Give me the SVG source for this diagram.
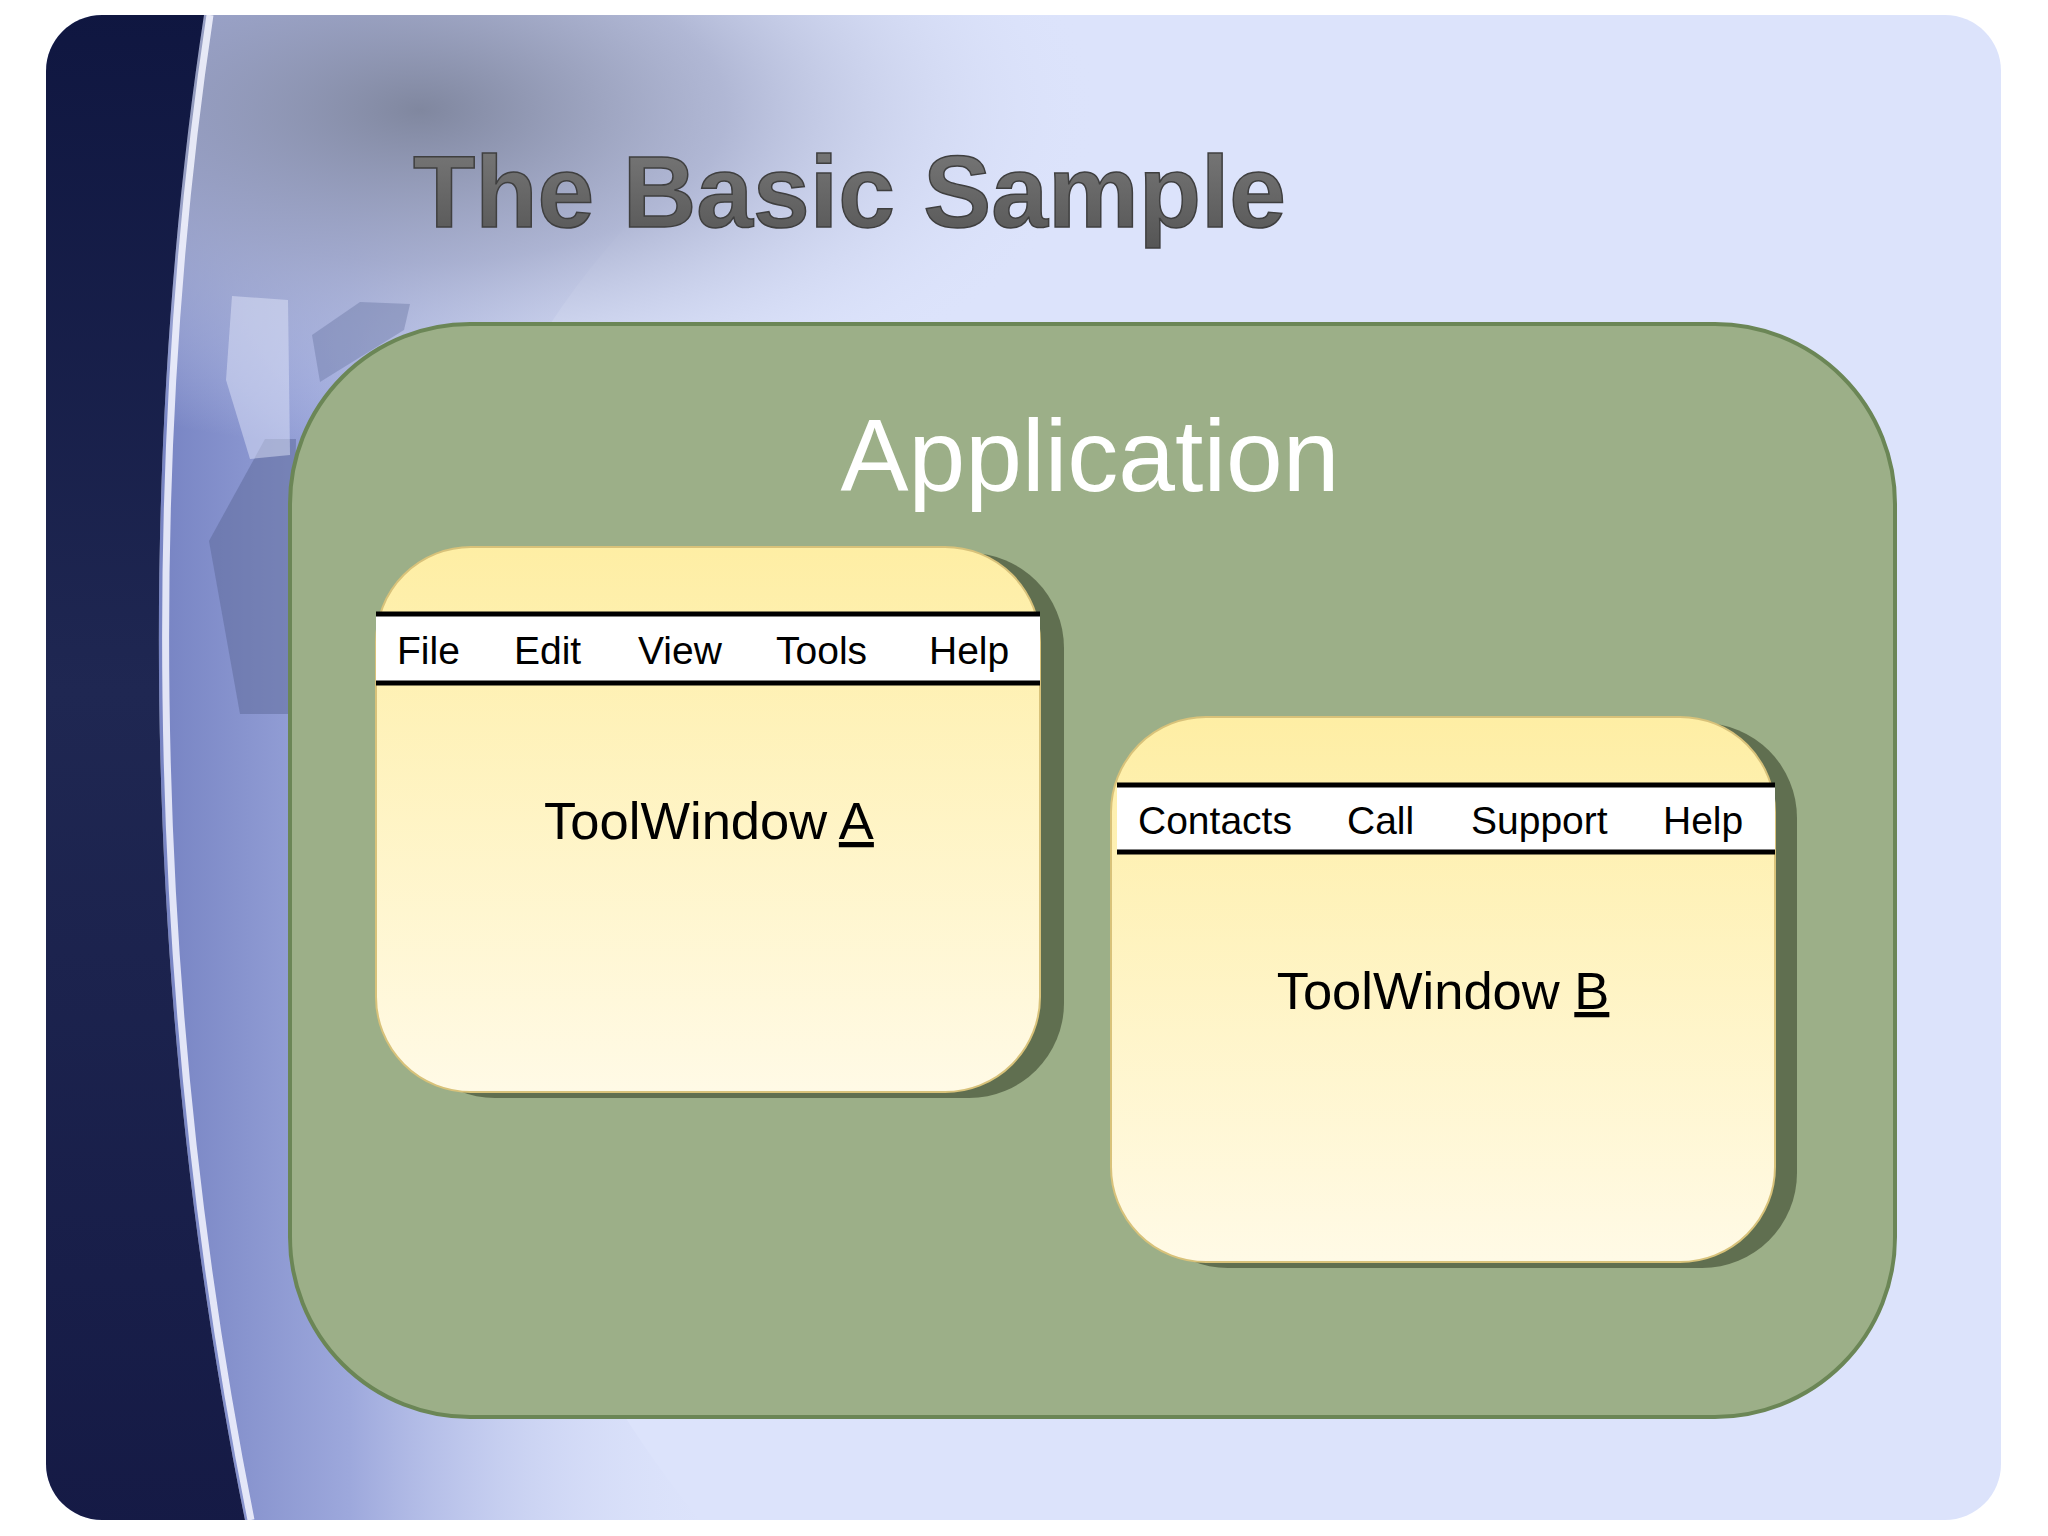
<svg xmlns="http://www.w3.org/2000/svg" width="2048" height="1536" viewBox="0 0 2048 1536">
  <defs>
    <style>
      .menu { font-family: "Liberation Sans", Arial, sans-serif; font-size: 39px; fill: #000; }
      .label { font-family: "Liberation Sans", Arial, sans-serif; font-size: 52.5px; fill: #000; text-anchor: middle; }
      .win { fill: url(#winGrad); stroke: #d8c27a; stroke-width: 2; }
      .shadow { fill: #606f50; }
      .bar { fill: #ffffff; }
      .barline { stroke: #000; stroke-width: 5; }
    </style>
    <clipPath id="slideClip">
      <rect x="46" y="15" width="1955" height="1505" rx="56" ry="56"/>
    </clipPath>
    <linearGradient id="winGrad" x1="0" y1="0" x2="0" y2="1">
      <stop offset="0" stop-color="#feeea4"/>
      <stop offset="1" stop-color="#fffae6"/>
    </linearGradient>
    <linearGradient id="navyGrad" x1="0" y1="0" x2="0" y2="1">
      <stop offset="0" stop-color="#0f1640"/>
      <stop offset="0.45" stop-color="#1f2752"/>
      <stop offset="1" stop-color="#151a45"/>
    </linearGradient>
    <linearGradient id="ringGrad" gradientUnits="userSpaceOnUse" x1="150" y1="0" x2="720" y2="0">
      <stop offset="0" stop-color="#7582c2"/>
      <stop offset="0.35" stop-color="#9da8dc"/>
      <stop offset="1" stop-color="#dce3fb" stop-opacity="0"/>
    </linearGradient>
    <radialGradient id="topGray" gradientUnits="userSpaceOnUse" cx="420" cy="110" r="680" gradientTransform="translate(420 110) scale(1 0.5) translate(-420 -110)">
      <stop offset="0" stop-color="#80879f"/>
      <stop offset="0.45" stop-color="#a2a9c8" stop-opacity="0.75"/>
      <stop offset="1" stop-color="#dce3fb" stop-opacity="0"/>
    </radialGradient>
    <linearGradient id="titleGrad" x1="0" y1="0" x2="0" y2="1">
      <stop offset="0" stop-color="#7a7a7a"/>
      <stop offset="1" stop-color="#555555"/>
    </linearGradient>
  </defs>

  <rect x="0" y="0" width="2048" height="1536" fill="#ffffff"/>

  <g id="slide-background" clip-path="url(#slideClip)">
    <rect x="46" y="15" width="1955" height="1505" fill="#dce3fb"/>
    <path d="M 204 15 C 145 400, 130 950, 245 1520 L 700 1520 C 520 1300, 420 1000, 420 760 C 420 480, 560 200, 900 15 Z" fill="url(#ringGrad)"/>
    <rect x="150" y="15" width="1000" height="520" fill="url(#topGray)"/>
    <polygon points="265,439 296,439 290,714 240,714 209,541" fill="#5c6898" opacity="0.5"/>
    <polygon points="232,296 288,300 290,455 250,459 226,380" fill="#e6ebfc" opacity="0.45"/>
    <polygon points="312,335 360,302 410,304 404,330 320,382" fill="#66739f" opacity="0.4"/>
    <path d="M 204 15 C 145 400, 130 950, 245 1520 L 0 1536 L 0 0 L 204 0 Z" fill="url(#navyGrad)"/>
    <path d="M 210 15 C 152 400, 137 950, 251 1520" stroke="#f4f6ff" stroke-width="7" fill="none" opacity="0.85"/>
  </g>

  <g id="title">
    <text x="413" y="227" font-family="'Liberation Sans', Arial, sans-serif" font-weight="bold" font-size="102" fill="url(#titleGrad)" stroke="#3f3f3f" stroke-width="1.5">The Basic Sample</text>
  </g>

  <g id="application">
    <rect x="290" y="324" width="1605" height="1093" rx="180" ry="180" fill="#9caf88" stroke="#6b8656" stroke-width="4"/>
    <text x="1090" y="491" font-family="'Liberation Sans', Arial, sans-serif" font-size="102" fill="#ffffff" text-anchor="middle">Application</text>
  </g>

  <g id="toolwindow-a">
    <rect class="shadow" x="400" y="553" width="664" height="545" rx="95" ry="95"/>
    <rect class="win" x="376" y="547" width="664" height="545" rx="95" ry="95"/>
    <rect class="bar" x="376" y="614" width="664" height="69"/>
    <line class="barline" x1="376" y1="614" x2="1040" y2="614"/>
    <line class="barline" x1="376" y1="683" x2="1040" y2="683"/>
    <text class="menu" x="397" y="664">File</text>
    <text class="menu" x="514" y="664">Edit</text>
    <text class="menu" x="638" y="664">View</text>
    <text class="menu" x="776" y="664">Tools</text>
    <text class="menu" x="929" y="664">Help</text>
    <text class="label" x="709" y="839">ToolWindow <tspan text-decoration="underline">A</tspan></text>
  </g>

  <g id="toolwindow-b">
    <rect class="shadow" x="1133" y="723" width="664" height="545" rx="95" ry="95"/>
    <rect class="win" x="1111" y="717" width="664" height="545" rx="95" ry="95"/>
    <rect class="bar" x="1117" y="785" width="658" height="67"/>
    <line class="barline" x1="1117" y1="785" x2="1775" y2="785"/>
    <line class="barline" x1="1117" y1="852" x2="1775" y2="852"/>
    <text class="menu" x="1138" y="834">Contacts</text>
    <text class="menu" x="1347" y="834">Call</text>
    <text class="menu" x="1471" y="834">Support</text>
    <text class="menu" x="1663" y="834">Help</text>
    <text class="label" x="1443" y="1009">ToolWindow <tspan text-decoration="underline">B</tspan></text>
  </g>

  <g id="connectors"/>
</svg>
